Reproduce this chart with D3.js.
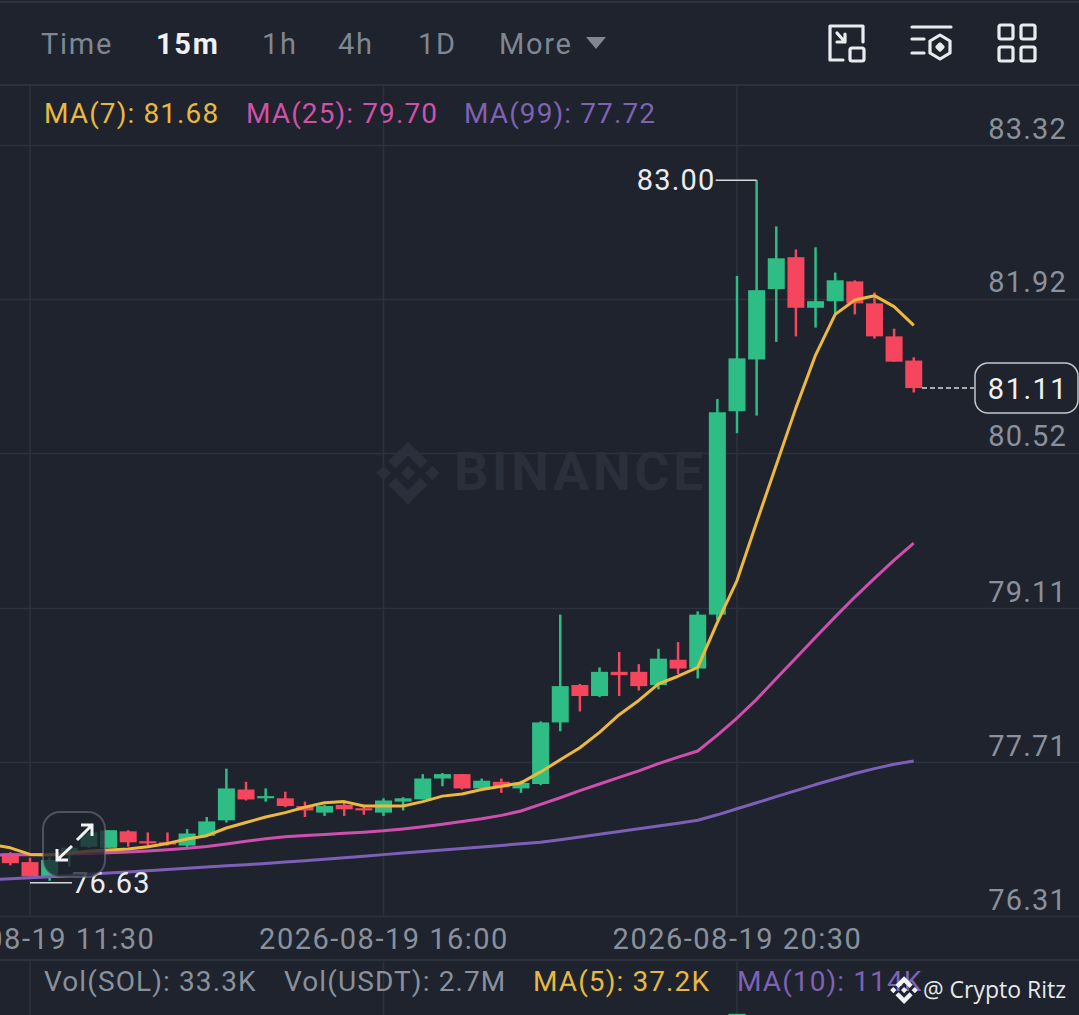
<!DOCTYPE html>
<html>
<head>
<meta charset="utf-8">
<script src="https://cdn.jsdelivr.net/npm/d3@7"></script>
<style>
  html, body { margin: 0; padding: 0; background: #1e232d; overflow: hidden; }
  svg { display: block; font-family: Roboto, sans-serif; }
</style>
</head>
<body>
<svg id="chart" width="1079" height="1015"></svg>
<script>
// first candle is the 11:15 one, MA arrays start one bar earlier (11:00)
var maStart = new Date(2026, 7, 19, 11, 0);
var opens = [76.88, 76.80, 76.66, 76.87, 76.94, 76.93, 77.08, 76.99, 76.98, 76.95, 77.04, 77.18, 77.46, 77.38, 77.38, 77.31, 77.25, 77.32, 77.29, 77.25, 77.35, 77.37, 77.56, 77.60, 77.47, 77.53, 77.47, 77.51, 78.07, 78.41, 78.31, 78.53, 78.53, 78.41, 78.64, 78.56, 79.05, 80.90, 81.37, 82.01, 82.30, 81.84, 81.90, 82.08, 81.88, 81.58, 81.36];
var closes = [76.79, 76.67, 76.82, 76.93, 77.07, 77.09, 76.98, 76.97, 76.96, 77.06, 77.17, 77.47, 77.37, 77.40, 77.31, 77.27, 77.31, 77.28, 77.27, 77.36, 77.38, 77.56, 77.60, 77.47, 77.54, 77.48, 77.52, 78.07, 78.40, 78.31, 78.53, 78.50, 78.40, 78.65, 78.56, 79.05, 80.89, 81.38, 82.00, 82.29, 81.84, 81.90, 82.09, 81.88, 81.58, 81.35, 81.11];
var highs = [76.89, 76.84, 76.84, 76.94, 77.07, 77.09, 77.09, 77.07, 77.07, 77.10, 77.21, 77.65, 77.53, 77.47, 77.44, 77.35, 77.32, 77.35, 77.32, 77.38, 77.39, 77.60, 77.61, 77.60, 77.56, 77.56, 77.54, 78.08, 79.05, 78.42, 78.57, 78.71, 78.60, 78.74, 78.80, 79.08, 81.01, 82.13, 83.00, 82.58, 82.37, 82.39, 82.16, 82.09, 81.98, 81.65, 81.39];
var lows = [76.77, 76.67, 76.63, 76.76, 76.93, 76.93, 76.94, 76.95, 76.95, 76.93, 77.03, 77.16, 77.36, 77.35, 77.30, 77.21, 77.22, 77.22, 77.23, 77.22, 77.27, 77.37, 77.49, 77.46, 77.47, 77.43, 77.43, 77.50, 77.99, 78.17, 78.30, 78.31, 78.36, 78.37, 78.51, 78.47, 79.00, 80.70, 80.86, 81.53, 81.58, 81.66, 81.79, 81.78, 81.56, 81.35, 81.07];
var ma7 = [76.96, 76.93, 76.87, 76.865, 76.88, 76.90, 76.91, 76.92, 76.94, 76.97, 77.01, 77.04, 77.11, 77.16, 77.21, 77.25, 77.30, 77.34, 77.35, 77.31, 77.31, 77.31, 77.35, 77.40, 77.42, 77.46, 77.49, 77.52, 77.62, 77.73, 77.84, 77.98, 78.14, 78.27, 78.42, 78.49, 78.57, 78.98, 79.36, 79.89, 80.41, 80.93, 81.41, 81.78, 81.91, 81.95, 81.85, 81.68];
var ma25 = [76.865, 76.866, 76.868, 76.870, 76.874, 76.879, 76.885, 76.893, 76.902, 76.912, 76.925, 76.942, 76.965, 76.990, 77.012, 77.030, 77.042, 77.052, 77.062, 77.072, 77.085, 77.102, 77.122, 77.145, 77.170, 77.195, 77.225, 77.265, 77.325, 77.385, 77.450, 77.510, 77.570, 77.630, 77.695, 77.755, 77.810, 77.955, 78.110, 78.280, 78.470, 78.655, 78.845, 79.030, 79.210, 79.380, 79.545, 79.700];
var ma99 = [76.640, 76.648, 76.657, 76.667, 76.678, 76.689, 76.700, 76.711, 76.722, 76.733, 76.745, 76.756, 76.767, 76.777, 76.788, 76.800, 76.813, 76.826, 76.840, 76.854, 76.868, 76.882, 76.896, 76.910, 76.924, 76.938, 76.952, 76.966, 76.980, 77.004, 77.028, 77.053, 77.078, 77.103, 77.128, 77.153, 77.180, 77.230, 77.285, 77.340, 77.395, 77.450, 77.505, 77.555, 77.605, 77.650, 77.690, 77.720];
var priceTicks = [83.32, 81.92, 80.52, 79.11, 77.71, 76.31];
var timeTicks = [new Date(2026, 7, 19, 11, 30), new Date(2026, 7, 19, 16, 0), new Date(2026, 7, 19, 20, 30)];
var intervals = ['Time', '15m', '1h', '4h', '1D', 'More'];
var intervalX = [41, 156, 262, 338, 418, 499];
var maLegend = [['MA(7): 81.68', '#e8b93f', 44], ['MA(25): 79.70', '#cf52a8', 246], ['MA(99): 77.72', '#7e62b4', 464]];
var volLegend = [['Vol(SOL): 33.3K', '#8a919c', 44], ['Vol(USDT): 2.7M', '#8a919c', 284], ['MA(5): 37.2K', '#e8b93f', 533], ['MA(10): 114K', '#7e62b4', 737]];
var volTimes = [new Date(2026, 7, 19, 20, 30)];
var volValues = [392];

var BG = '#1e232d', GRID = '#2c323c', GREEN = '#2ebd85', RED = '#f6465d', GREY = '#8a919c';
var LOGO = 'M9.8 13.6 16 7.4l6.2 6.2 3.6-3.6L16 .2 6.2 10zM.2 16l3.6-3.6L7.4 16l-3.6 3.6zM9.8 18.4 16 24.6l6.2-6.2 3.6 3.6L16 31.8 6.2 22zM24.6 16l3.6-3.6 3.6 3.6-3.6 3.6zM19.6 16 16 12.4 13.4 15l-.3.3-.6.6L16 19.6z';

function barTime(i) {
  return d3.timeMinute.offset(maStart, i * 15);
}

var candles = opens.map(function(o, i) {
  return { t: barTime(i + 1), o: o, c: closes[i], h: highs[i], l: lows[i] };
});

var x = d3.scaleTime().domain([timeTicks[0], timeTicks[2]]).range([30, 737]);
var y = d3.scaleLinear().domain([76.31, 83.32]).range([916, 145]);
var yVol = d3.scaleLinear().domain([0, 400]).range([1445, 1005]);

var svg = d3.select('#chart');
svg.append('rect').attr('width', 1079).attr('height', 1015).attr('fill', BG);

/////////////
// frame and grid
/////////////
[2, 85, 960].forEach(function(py) {
  svg.append('line').attr('x1', 0).attr('x2', 1079).attr('y1', py).attr('y2', py)
    .attr('stroke', GRID).attr('stroke-width', 2);
});

var xGrid = svg.append('g').attr('class', 'x-grid');
timeTicks.forEach(function(t) {
  xGrid.append('line').attr('x1', x(t)).attr('x2', x(t)).attr('y1', 85).attr('y2', 916).attr('stroke', GRID).attr('stroke-width', 1.5);
  xGrid.append('line').attr('x1', x(t)).attr('x2', x(t)).attr('y1', 960).attr('y2', 1015).attr('stroke', GRID).attr('stroke-width', 1.5);
});

var yAxis = d3.axisLeft(y).tickValues(priceTicks).tickSize(1079).tickFormat(d3.format('.2f'));
var yG = svg.append('g').attr('transform', 'translate(1079,0)').call(yAxis);
yG.select('.domain').remove();
yG.selectAll('line').attr('stroke', GRID).attr('stroke-width', 1.5);
// labels sit above their grid line, at the right edge
yG.selectAll('text').attr('x', -12).attr('fill', GREY).attr('font-family', 'Roboto, sans-serif').attr('font-size', 29)
  .attr('letter-spacing', 1.2).attr('dy', -7);

var xAxis = d3.axisBottom(x).tickValues(timeTicks).tickSize(0).tickPadding(0).tickFormat(d3.timeFormat('%Y-%m-%d %H:%M'));
var xG = svg.append('g').attr('transform', 'translate(0,931)').call(xAxis);
xG.select('.domain').remove();
xG.selectAll('text').attr('fill', GREY).attr('font-family', 'Roboto, sans-serif').attr('font-size', 29)
  .attr('letter-spacing', 1.5).attr('dy', 18);

// watermark
var wm = svg.append('g');
wm.append('path').attr('d', LOGO).attr('fill', '#2a303b').attr('transform', 'translate(376,441) scale(2)');
wm.append('text').attr('x', 454).attr('y', 490).text('BINANCE').attr('fill', '#2a303b')
  .attr('font-size', 54).attr('font-weight', 700).attr('letter-spacing', 3.4);

/////////////
// candles
/////////////
var candle = svg.append('g').selectAll('g').data(candles).enter().append('g')
  .attr('fill', function(d) { return d.c >= d.o ? GREEN : RED; });
candle.append('rect')
  .attr('x', function(d) { return x(d.t) - 1.25; })
  .attr('width', 2.5)
  .attr('y', function(d) { return y(d.h); })
  .attr('height', function(d) { return y(d.l) - y(d.h); });
candle.append('rect')
  .attr('x', function(d) { return x(d.t) - 8.5; })
  .attr('width', 17)
  .attr('y', function(d) { return y(Math.max(d.o, d.c)); })
  .attr('height', function(d) { return Math.max(2, Math.abs(y(d.o) - y(d.c))); });

/////////////
// moving averages
/////////////
var maLine = d3.line()
  .x(function(d, i) { return x(barTime(i)); })
  .y(function(d) { return y(d); });
[[ma99, '#7e5fb8'], [ma25, '#cf4fae'], [ma7, '#edb93c']].forEach(function(m) {
  svg.append('path').attr('d', maLine(m[0])).attr('fill', 'none').attr('stroke', m[1])
    .attr('stroke-width', 3).attr('stroke-linejoin', 'round');
});

/////////////
// high / low / last price labels
/////////////
var highBar = candles[highs.indexOf(d3.max(highs))];
var lowBar = candles[lows.indexOf(d3.min(lows))];

svg.append('line').attr('x1', x(highBar.t) - 41).attr('x2', x(highBar.t)).attr('y1', y(highBar.h)).attr('y2', y(highBar.h))
  .attr('stroke', '#d5d8dc').attr('stroke-width', 1.5);
svg.append('text').attr('x', x(highBar.t) - 41).attr('y', y(highBar.h) + 10).attr('text-anchor', 'end')
  .attr('fill', '#eaecef').attr('font-size', 29).attr('letter-spacing', 1.2).text(d3.format('.2f')(highBar.h));

svg.append('line').attr('x1', 30).attr('x2', 72).attr('y1', y(lowBar.l) + 2).attr('y2', y(lowBar.l) + 2)
  .attr('stroke', '#d5d8dc').attr('stroke-width', 1.5);
svg.append('text').attr('x', 72).attr('y', y(lowBar.l) + 12)
  .attr('fill', '#eaecef').attr('font-size', 29).attr('letter-spacing', 1.2).text(d3.format('.2f')(lowBar.l));

var last = closes[closes.length - 1];
svg.append('line').attr('x1', 922).attr('x2', 974).attr('y1', y(last)).attr('y2', y(last))
  .attr('stroke', '#d5d8dc').attr('stroke-width', 1.5).attr('stroke-dasharray', '5 3');
svg.append('rect').attr('x', 975).attr('y', y(last) - 25).attr('width', 103).attr('height', 50).attr('rx', 13)
  .attr('fill', BG).attr('stroke', '#c4c7cc').attr('stroke-width', 1.5);
svg.append('text').attr('x', 1028).attr('y', y(last) + 11).attr('text-anchor', 'middle')
  .attr('fill', '#f0f1f3').attr('font-size', 29).attr('letter-spacing', 1.5).text(d3.format('.2f')(last));

/////////////
// volume sliver at the very bottom
/////////////
svg.append('g').selectAll('rect').data(volValues).enter().append('rect')
  .attr('x', function(d, i) { return x(volTimes[i]) - 8.5; })
  .attr('width', 17)
  .attr('y', function(d) { return yVol(d); })
  .attr('height', 20)
  .attr('fill', GREEN);

/////////////
// header
/////////////
intervals.forEach(function(label, i) {
  svg.append('text').attr('x', intervalX[i]).attr('y', 54).text(label)
    .attr('font-size', 29).attr('letter-spacing', 1.7)
    .attr('font-weight', label === '15m' ? 700 : 400)
    .attr('fill', label === '15m' ? '#f0f1f3' : '#7f8793');
});
svg.append('path').attr('d', 'M586,37H606L596,49Z').attr('fill', '#7f8793');

maLegend.forEach(function(m) {
  svg.append('text').attr('x', m[2]).attr('y', 123).text(m[0]).attr('fill', m[1])
    .attr('font-size', 28).attr('letter-spacing', 1.1);
});
volLegend.forEach(function(m) {
  svg.append('text').attr('x', m[2]).attr('y', 991).text(m[0]).attr('fill', m[1])
    .attr('font-size', 28).attr('letter-spacing', 1.1);
});

// toolbar icons
var icons = svg.append('g').attr('fill', 'none').attr('stroke', '#e9ebee').attr('stroke-width', 3.2)
  .attr('stroke-linejoin', 'round').attr('stroke-linecap', 'round');
icons.append('path').attr('d', 'M843,60H830V26H863V42');
icons.append('rect').attr('x', 850).attr('y', 48).attr('width', 14).attr('height', 13).attr('rx', 2);
icons.append('path').attr('d', 'M837,33L845,42M845,34V42H837');
icons.append('path').attr('d', 'M912,27H951M912,39H924M912,53H924');
icons.append('path').attr('d', 'M940,35L950,41V53L940,59L930,53V41Z');
icons.append('path').attr('d', 'M940,44L943,47L940,50L937,47Z').attr('fill', '#e9ebee');
[[999, 25], [1021, 25], [999, 47], [1021, 47]].forEach(function(p) {
  icons.append('rect').attr('x', p[0]).attr('y', p[1]).attr('width', 14).attr('height', 14).attr('rx', 2);
});

// expand button sitting over the candles
svg.append('rect').attr('x', 43).attr('y', 812).attr('width', 62).attr('height', 65).attr('rx', 17)
  .attr('fill', 'rgba(30,35,45,0.78)').attr('stroke', 'rgba(125,130,140,0.5)').attr('stroke-width', 2);
svg.append('path').attr('d', 'M77,840L92,825M81,825H92V836M72,846L57,860M57,849V860H68')
  .attr('fill', 'none').attr('stroke', '#f2f3f5').attr('stroke-width', 3);

// author tag
svg.append('path').attr('d', LOGO).attr('fill', '#f0f1f3').attr('transform', 'translate(890,976) scale(.88)');
svg.append('text').attr('x', 923).attr('y', 998).text('@ Crypto Ritz')
  .attr('font-family', '"Open Sans", sans-serif').attr('font-size', 23).attr('fill', '#e6e8ea');
</script>
</body>
</html>
